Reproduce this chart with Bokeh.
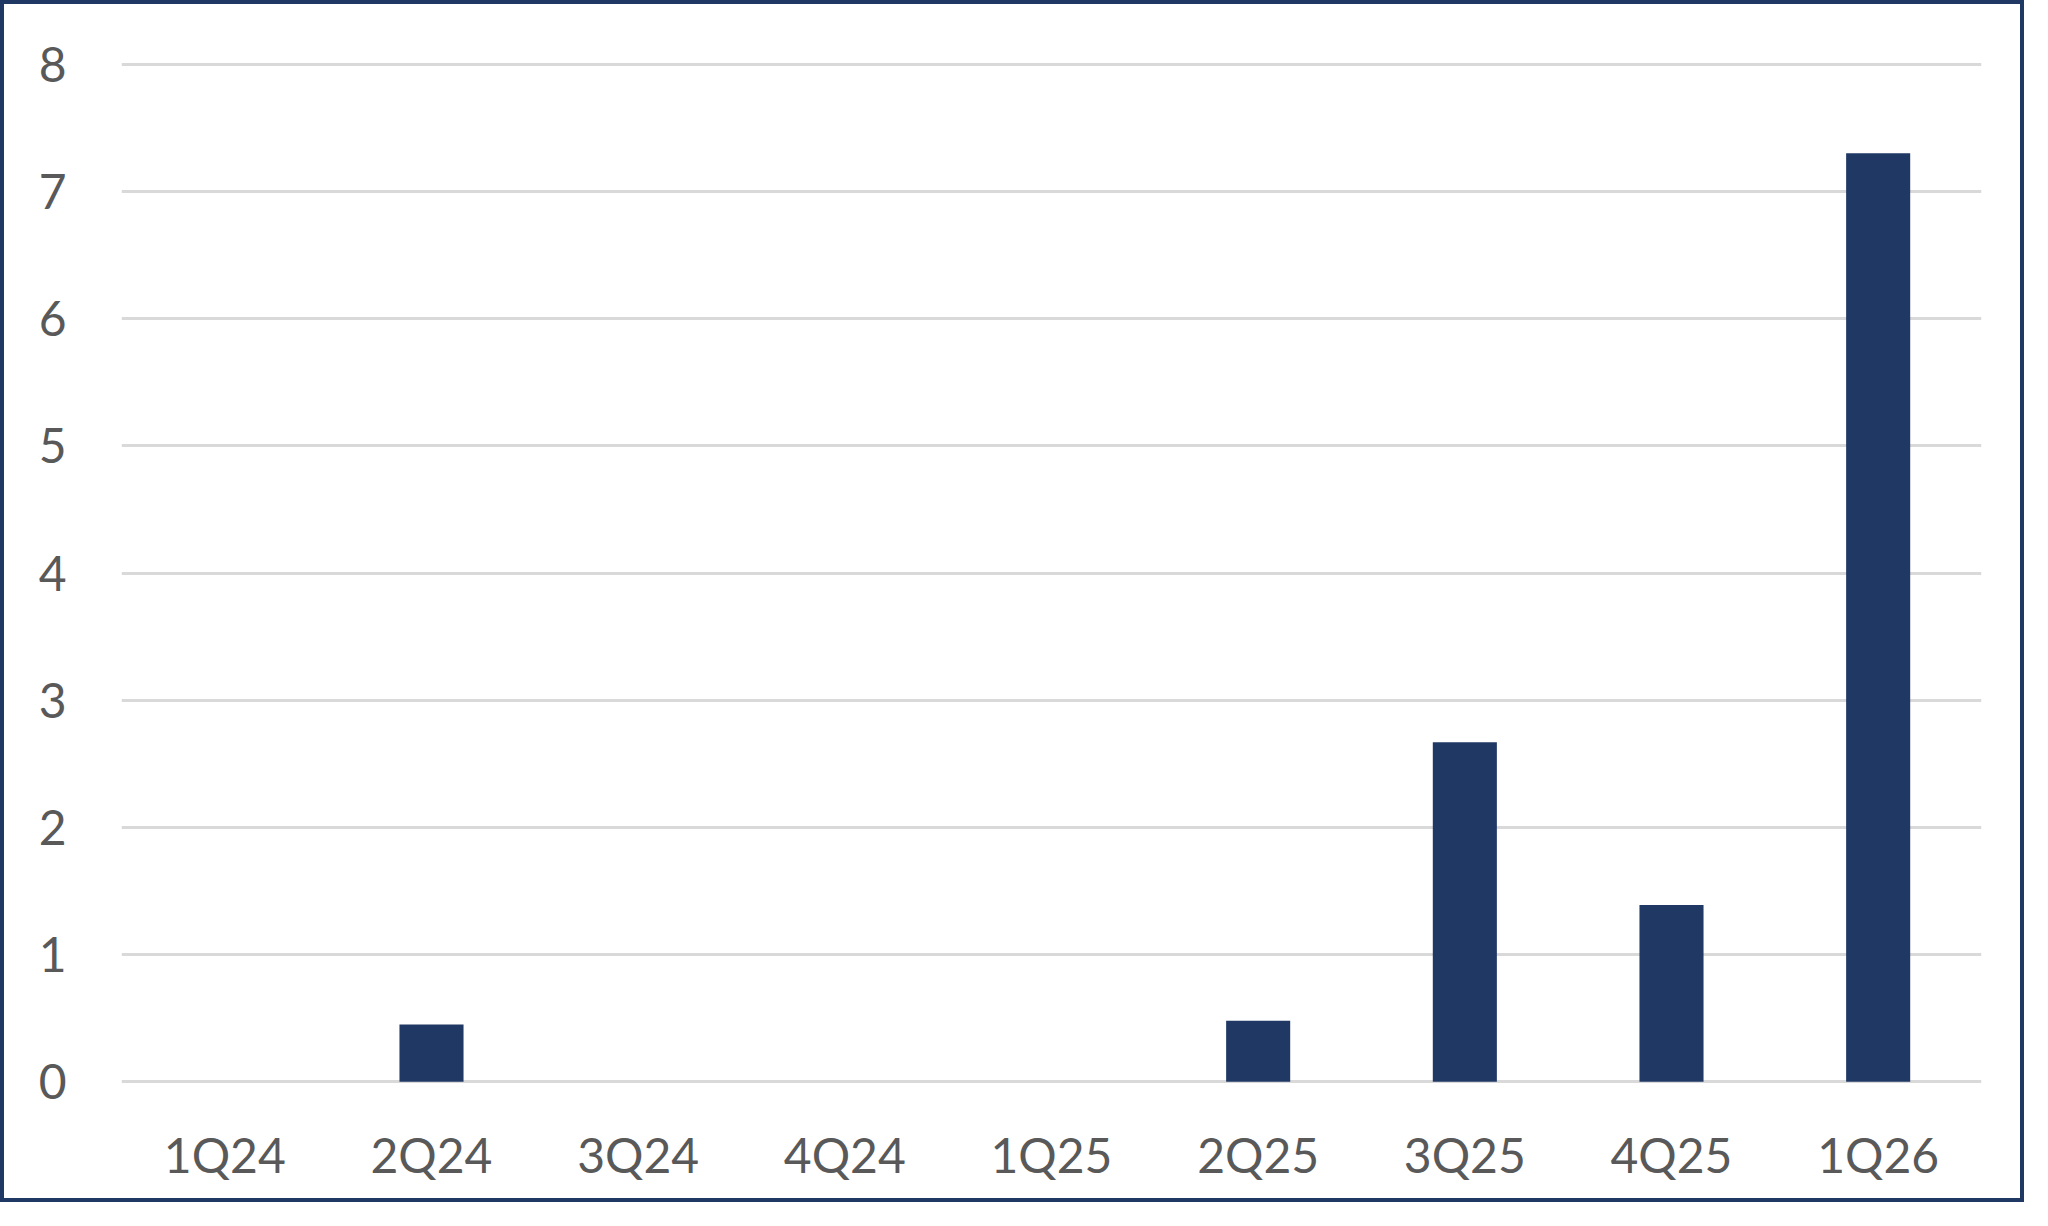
from bokeh.plotting import figure
from bokeh.models import FactorRange, Range1d, FixedTicker, ColumnDataSource
from bokeh.embed import file_html
from bokeh.resources import INLINE

quarters = ["1Q24", "2Q24", "3Q24", "4Q24", "1Q25", "2Q25", "3Q25", "4Q25", "1Q26"]
values = [0, 0.45, 0, 0, 0, 0.48, 2.67, 1.39, 7.30]
y_ticks = [0, 1, 2, 3, 4, 5, 6, 7, 8]

BAR_COLOR = "#203864"
BORDER_COLOR = "#203864"
TEXT_COLOR = "#595959"
GRID_COLOR = "#D9D9D9"
FONT = "Lato"

BW = 4  # outer border width (css)
W, H = 2032 - 2 * BW, 1210 - 2 * BW
ML, MR, MT, MB = 121 - BW, 51 - BW, 60 - BW, 125 - BW

src = ColumnDataSource(data=dict(q=quarters, v=values))

p = figure(
    width=W, height=H,
    x_range=FactorRange(*quarters, range_padding=0),
    y_range=Range1d(-0.03, 8.03),
    output_backend="svg", toolbar_location=None,
    min_border_left=ML, min_border_right=MR,
    min_border_top=MT, min_border_bottom=MB,
)
p.vbar(x="q", top="v", bottom=0, width=0.31, source=src,
       fill_color=BAR_COLOR, line_color=None)

p.outline_line_color = None
p.background_fill_color = "white"
p.border_fill_color = "white"
p.styles = {"border": f"{BW}px solid {BORDER_COLOR}"}

p.xgrid.visible = False
p.ygrid.ticker = FixedTicker(ticks=y_ticks)
p.ygrid.grid_line_color = GRID_COLOR
p.ygrid.grid_line_width = 3

p.yaxis.ticker = FixedTicker(ticks=y_ticks)
for ax in (p.xaxis[0], p.yaxis[0]):
    ax.axis_line_color = None
    ax.major_tick_line_color = None
    ax.minor_tick_line_color = None
    ax.major_tick_out = 0
    ax.major_tick_in = 0
    ax.major_label_text_color = TEXT_COLOR
    ax.major_label_text_font = FONT
    ax.major_label_text_font_size = "48px"
p.xaxis.major_label_standoff = 40
p.yaxis.major_label_standoff = 55

open("out.html", "w").write(file_html(p, INLINE))
